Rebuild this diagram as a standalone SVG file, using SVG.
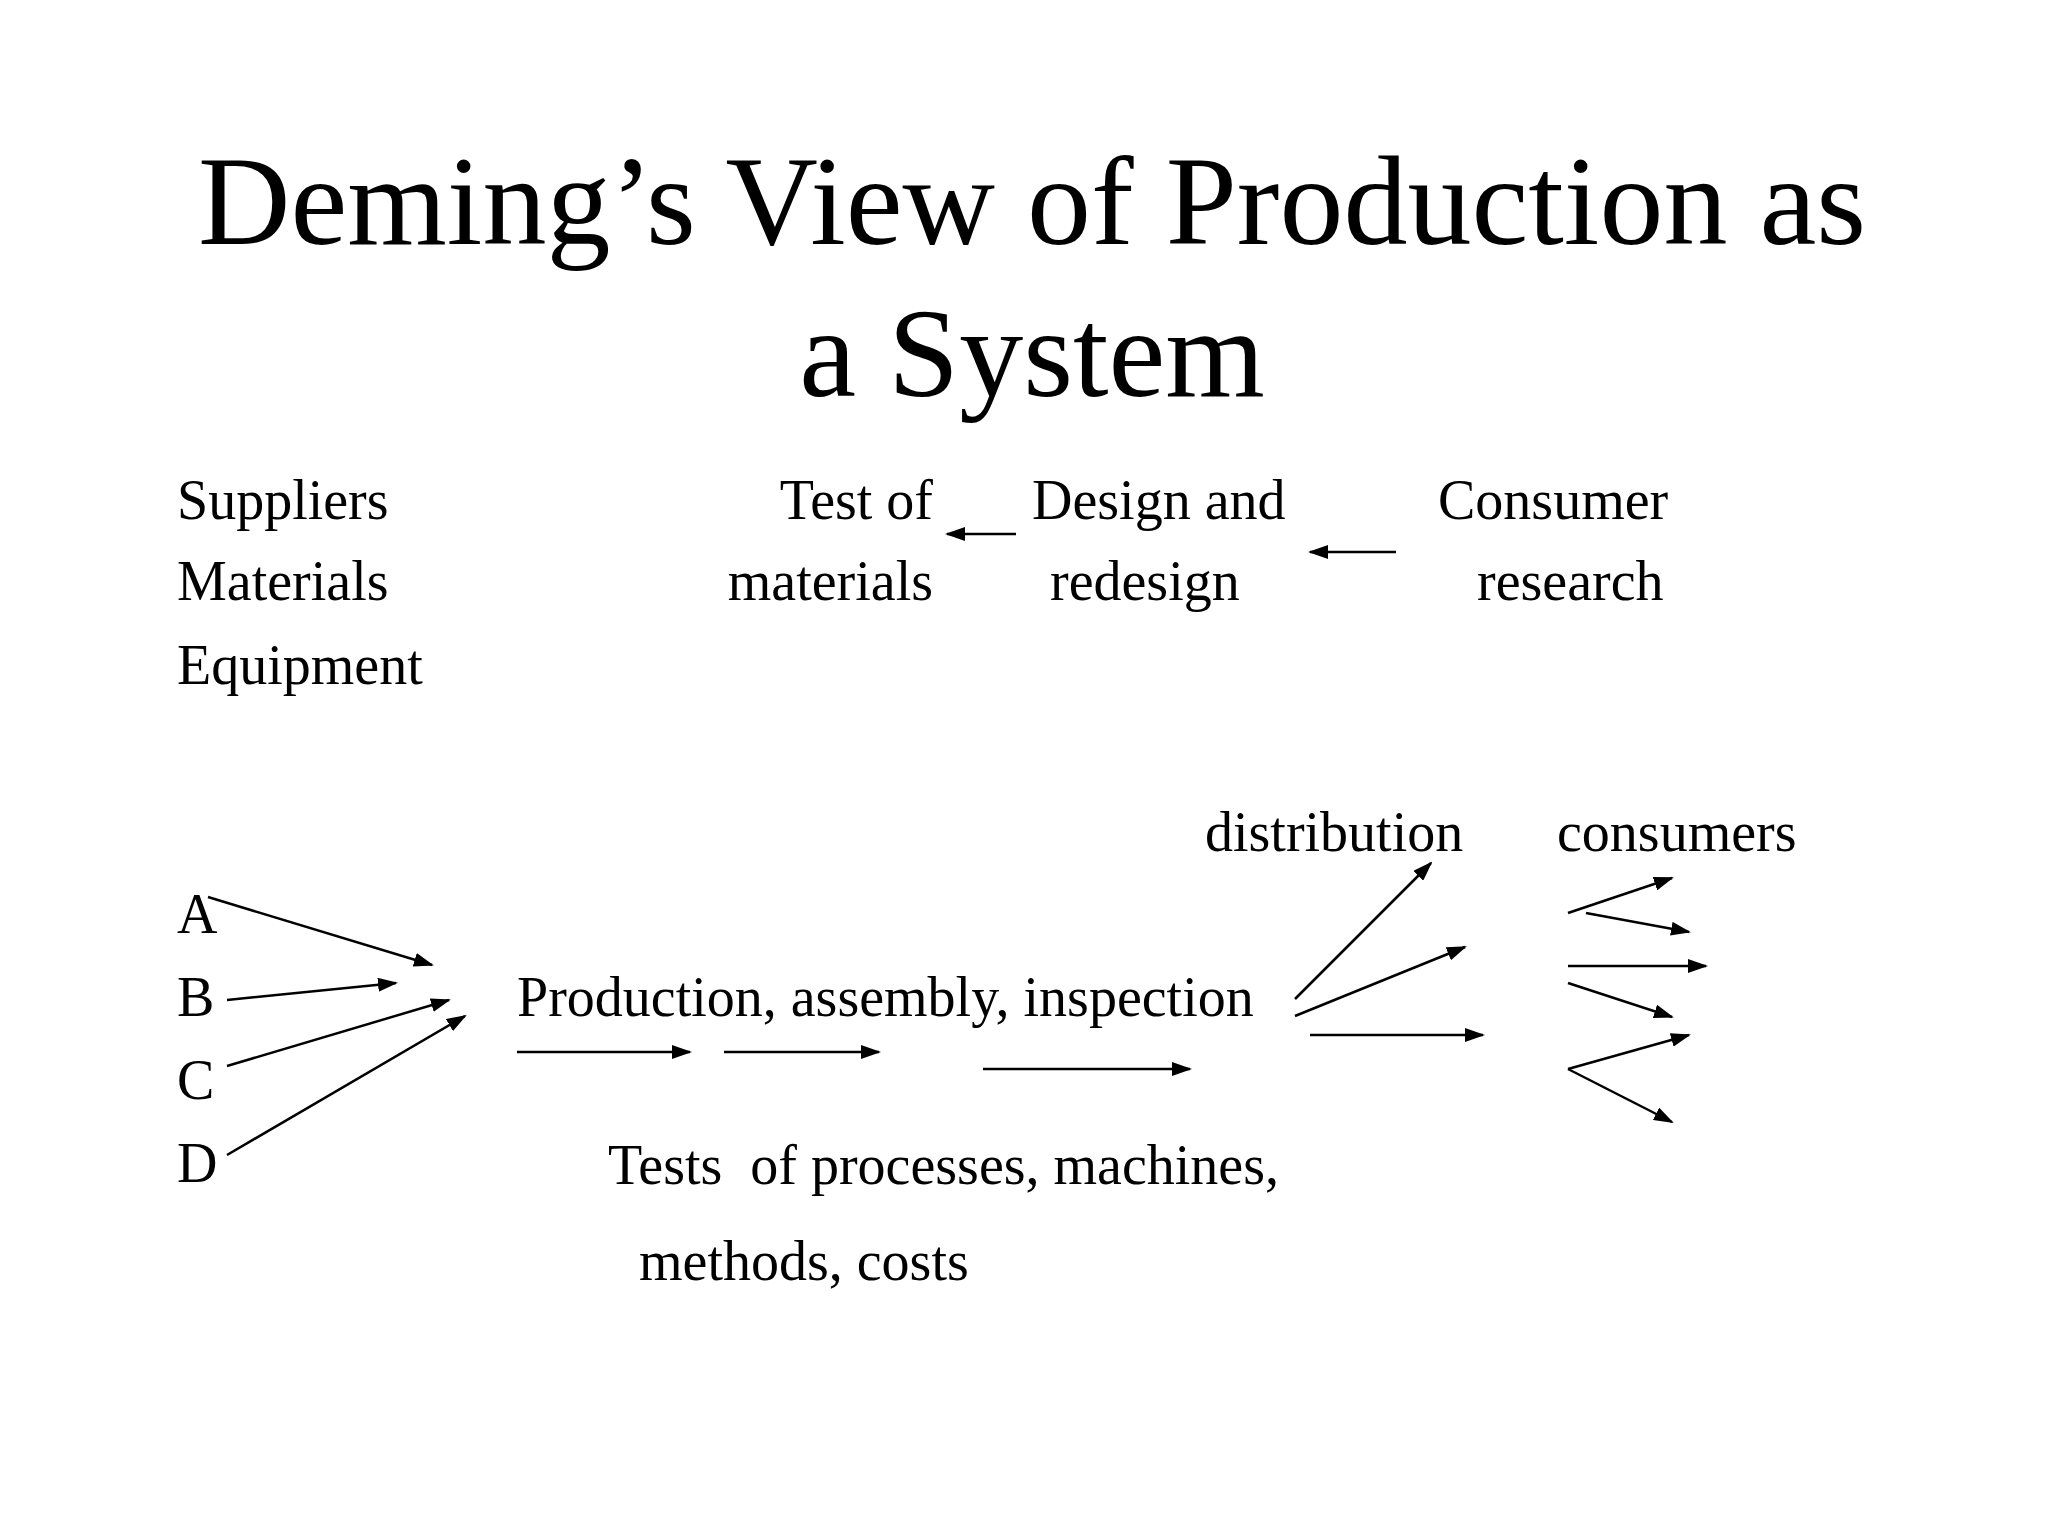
<svg xmlns="http://www.w3.org/2000/svg" width="2048" height="1536" viewBox="0 0 2048 1536">
<style>
text{font-family:"Liberation Serif","Times New Roman",serif;fill:#000;font-size:56px}
.t{font-size:128px}
line{stroke:#000;stroke-width:2.5}
</style>
<defs><marker id="a" markerUnits="userSpaceOnUse" markerWidth="20" markerHeight="14" refX="18" refY="7" orient="auto"><path d="M0,0L20,7L0,14z" fill="#000"/></marker></defs>
<rect width="2048" height="1536" fill="#fff"/>
<g id="title"><text class="t" x="1032" y="244" text-anchor="middle">Deming’s View of Production as</text><text class="t" x="1032" y="396" text-anchor="middle">a System</text></g>
<g id="suppliers"><text x="177" y="519">Suppliers</text><text x="177" y="600">Materials</text><text x="177" y="684">Equipment</text></g>
<g id="test"><text x="933" y="519" text-anchor="end">Test of</text><text x="933" y="600" text-anchor="end">materials</text></g>
<g id="design"><text x="1032" y="519">Design and</text><text x="1050" y="600">redesign</text></g>
<g id="consumer"><text x="1438" y="519">Consumer</text><text x="1477" y="600">research</text></g>
<g id="distribution"><text x="1205" y="851">distribution</text></g>
<g id="consumers"><text x="1557" y="851">consumers</text></g>
<g id="abcd"><text x="177" y="933">A</text><text x="177" y="1016">B</text><text x="177" y="1099">C</text><text x="177" y="1182">D</text></g>
<g id="production"><text x="517" y="1016">Production, assembly, inspection</text></g>
<g id="tests"><text x="608" y="1184" xml:space="preserve">Tests  of processes, machines,</text><text x="639" y="1280">methods, costs</text></g>
<g id="connectors" marker-end="url(#a)">
<line x1="1016" y1="534" x2="947" y2="534" marker-end="url(#a)"/>
<line x1="1396" y1="552" x2="1310" y2="552" marker-end="url(#a)"/>
<line x1="208" y1="897" x2="432" y2="965" marker-end="url(#a)"/>
<line x1="227" y1="1000" x2="396" y2="983" marker-end="url(#a)"/>
<line x1="227" y1="1066" x2="449" y2="1000" marker-end="url(#a)"/>
<line x1="227" y1="1155" x2="465" y2="1016" marker-end="url(#a)"/>
<line x1="517" y1="1052" x2="690" y2="1052" marker-end="url(#a)"/>
<line x1="724" y1="1052" x2="879" y2="1052" marker-end="url(#a)"/>
<line x1="983" y1="1069" x2="1190" y2="1069" marker-end="url(#a)"/>
<line x1="1295" y1="999" x2="1431" y2="863" marker-end="url(#a)"/>
<line x1="1295" y1="1016" x2="1465" y2="947" marker-end="url(#a)"/>
<line x1="1310" y1="1035" x2="1483" y2="1035" marker-end="url(#a)"/>
<line x1="1568" y1="913" x2="1672" y2="878" marker-end="url(#a)"/>
<line x1="1586" y1="913" x2="1689" y2="932" marker-end="url(#a)"/>
<line x1="1568" y1="966" x2="1706" y2="966" marker-end="url(#a)"/>
<line x1="1568" y1="983" x2="1672" y2="1017" marker-end="url(#a)"/>
<line x1="1568" y1="1069" x2="1689" y2="1035" marker-end="url(#a)"/>
<line x1="1568" y1="1069" x2="1672" y2="1122" marker-end="url(#a)"/>
</g>
</svg>
